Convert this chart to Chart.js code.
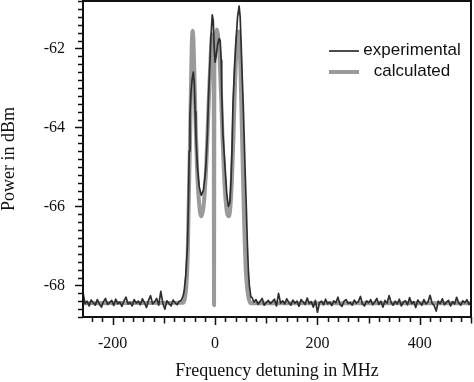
<!DOCTYPE html>
<html>
<head>
<meta charset="utf-8">
<script src="https://cdn.jsdelivr.net/npm/chart.js@4/dist/chart.umd.min.js"></script>
<style>
    html, body { margin: 0; padding: 0; background: #fff; }
</style>
</head>
<body>
<canvas id="spectrumChart" width="474" height="382"></canvas>
<script>
// baseline noise of the measured trace, sampled every 4 MHz
const noiseStep = 4;
const leftNoiseStart = -258;
const leftNoise = [
    -68.18, -68.46, -68.40, -68.52, -68.37, -68.44, -68.50, -68.36, -68.47, -68.55,
    -68.41, -68.33, -68.48, -68.44, -68.38, -68.51, -68.35, -68.46, -68.42, -68.53,
    -68.39, -68.30, -68.47, -68.43, -68.52, -68.36, -68.45, -68.40, -68.49, -68.34,
    -68.44, -68.56, -68.38, -68.26, -68.47, -68.41, -68.33, -68.50, -68.15, -68.45,
    -68.60, -68.39, -68.46, -68.52, -68.37, -68.44, -68.49, -68.40
];
const rightNoiseStart = 72;
const rightNoise = [
    -68.30, -68.42, -68.36, -68.48, -68.40, -68.33, -68.50, -68.44, -68.38, -68.46,
    -68.41, -68.35, -68.52, -68.20, -68.45, -68.39, -68.47, -68.34, -68.43, -68.50,
    -68.37, -68.45, -68.40, -68.53, -68.36, -68.42, -68.48, -68.32, -68.46, -68.41,
    -68.55, -68.38, -68.68, -68.44, -68.40, -68.49, -68.35, -68.47, -68.42, -68.51,
    -68.39, -68.44, -68.30, -68.48, -68.53, -68.40, -68.36, -68.46, -68.43, -68.50,
    -68.37, -68.45, -68.41, -68.28, -68.47, -68.52, -68.39, -68.44, -68.36, -68.49,
    -68.42, -68.33, -68.48, -68.40, -68.55, -68.38, -68.45, -68.26, -68.43, -68.50,
    -68.40, -68.47, -68.35, -68.52, -68.42, -68.39, -68.49, -68.31, -68.46, -68.41,
    -68.56, -68.37, -68.44, -68.50, -68.36, -68.47, -68.42, -68.25, -68.45, -68.51,
    -68.65, -68.40, -68.46, -68.34, -68.49, -68.43, -68.38, -68.52, -68.41, -68.47,
    -68.30, -68.45, -68.50, -68.39, -68.44, -68.36, -68.48, -68.42
];

// measured trace around the peaks
const expPeakFreq = [
    -66, -62, -60, -57, -54, -52, -50.5, -49, -47, -45,
    -42.5, -40.5, -39, -37.5, -34.5, -31, -27, -23, -20, -18,
    -15, -13, -10.5, -8, -5.5, -3.5, -2, 0, 2, 5,
    8, 10, 12, 13, 15.5, 19.5, 23, 26, 29, 31,
    33, 35, 38, 41, 44, 47, 49, 51, 53, 55,
    57, 59, 61, 63, 65, 67, 70
];
const expPeakPower = [
    -68.38, -68.25, -68.1, -67.7, -67.0, -65.9, -64.6, -63.7, -63.1, -62.8,
    -62.6, -62.9, -63.6, -64.2, -65.0, -65.5, -65.72, -65.6, -65.3, -65.0,
    -64.2, -63.3, -62.5, -61.7, -61.15, -61.3, -61.9, -62.35, -62.2, -61.9,
    -61.75, -61.8, -62.3, -63.1, -64.2, -65.0, -65.7, -66.0, -65.9, -65.4,
    -64.6, -63.4, -62.5, -61.8, -61.2, -60.93, -61.2, -61.9, -62.7, -63.4,
    -64.3, -65.2, -66.0, -66.9, -67.6, -68.0, -68.3
];

// calculated spectrum
const calcFreq = [
    -258, -62, -58, -55, -53, -51, -49, -47, -45.5, -43.5,
    -42, -40, -38, -35, -31, -27, -23, -20, -17, -14,
    -11, -8, -6, -4, -2.6, -2, -1.4, 0.5, 3.5, 6,
    9, 12, 15, 18, 21, 24, 27, 30, 33, 36,
    39, 42, 45.5, 48, 50, 52, 54, 56, 58, 60,
    63, 66, 70, 500
];
const calcPower = [
    -68.45, -68.44, -68.25, -67.8, -67.0, -65.6, -64.4, -62.9, -61.9, -61.55,
    -61.9, -62.9, -63.9, -65.1, -65.95, -66.25, -66.05, -65.6, -64.9, -63.9,
    -62.9, -62.05, -61.65, -61.8, -62.6, -68.5, -62.6, -61.7, -61.52, -61.7,
    -62.3, -63.3, -64.4, -65.3, -65.9, -66.2, -66.25, -66.0, -65.3, -64.2,
    -62.9, -62.0, -61.57, -61.9, -62.7, -63.8, -64.9, -66.0, -66.9, -67.6,
    -68.1, -68.35, -68.45, -68.45
];

const xLabelEvery = 200;
const yLabelEvery = 2;

const expPoints = [];
leftNoise.forEach((p, i) => expPoints.push({ x: leftNoiseStart + i * noiseStep, y: p }));
expPeakFreq.forEach((f, i) => expPoints.push({ x: f, y: expPeakPower[i] }));
rightNoise.forEach((p, i) => expPoints.push({ x: rightNoiseStart + i * noiseStep, y: p }));

const calcPoints = calcFreq.map((f, i) => ({ x: f, y: calcPower[i] }));

const isMult = (v, m) => Math.abs(v / m - Math.round(v / m)) < 1e-6;

// axis frame and tick marks (long for labelled ticks, short for minor ones)
const frameTicks = {
    id: 'frameTicks',
    afterDraw(chart) {
        const { ctx, chartArea: a, scales } = chart;
        ctx.save();
        ctx.strokeStyle = '#111';
        ctx.lineWidth = 1.5;
        scales.x.ticks.forEach(t => {
            const px = Math.round(scales.x.getPixelForValue(t.value)) + 0.5;
            const len = isMult(t.value, xLabelEvery) ? 8 : isMult(t.value, 100) ? 6.5 : 5;
            ctx.beginPath();
            ctx.moveTo(px, a.bottom);
            ctx.lineTo(px, a.bottom + len);
            ctx.stroke();
        });
        scales.y.ticks.forEach(t => {
            const py = Math.round(scales.y.getPixelForValue(t.value)) + 0.5;
            const len = isMult(t.value, yLabelEvery) ? 8 : 5;
            ctx.beginPath();
            ctx.moveTo(a.left, py);
            ctx.lineTo(a.left - len, py);
            ctx.stroke();
        });
        ctx.lineWidth = 2;
        ctx.strokeRect(a.left, a.top, a.right - a.left, a.bottom - a.top);
        ctx.restore();
    }
};

// legend drawn inside the plot, top right
const insideLegend = {
    id: 'insideLegend',
    afterDraw(chart) {
        const { ctx } = chart;
        ctx.save();
        ctx.font = '17px "Liberation Sans", Arial, sans-serif';
        ctx.textAlign = 'center';
        ctx.textBaseline = 'middle';
        ctx.fillStyle = '#111';
        chart.data.datasets.forEach((ds, i) => {
            const y = 50 + i * 21;
            ctx.strokeStyle = ds.borderColor;
            ctx.lineWidth = ds.borderWidth;
            ctx.beginPath();
            ctx.moveTo(329, y + 1);
            ctx.lineTo(359, y + 1);
            ctx.stroke();
            ctx.fillText(ds.label, 412, y);
        });
        ctx.restore();
    }
};

const serif = '"Liberation Serif", "Times New Roman", serif';

new Chart(document.getElementById('spectrumChart'), {
    type: 'line',
    data: {
        datasets: [
            {
                label: 'experimental',
                data: expPoints,
                borderColor: '#2e2e2e',
                borderWidth: 1.7,
                borderJoinStyle: 'round',
                pointRadius: 0,
                tension: 0,
                fill: false
            },
            {
                label: 'calculated',
                data: calcPoints,
                borderColor: '#9a9a9a',
                borderWidth: 4,
                borderJoinStyle: 'round',
                pointRadius: 0,
                cubicInterpolationMode: 'monotone',
                fill: false
            }
        ]
    },
    options: {
        responsive: false,
        animation: false,
        devicePixelRatio: 1,
        layout: { padding: { top: 1, right: 3, left: 0, bottom: 0 } },
        plugins: {
            legend: { display: false },
            tooltip: { enabled: false }
        },
        scales: {
            x: {
                type: 'linear',
                min: -258,
                max: 500,
                afterFit: s => {
                    s.height = 65;
                    s.paddingLeft = 0;
                    s.paddingRight = 0;
                },
                border: { display: false },
                grid: { drawOnChartArea: false, tickLength: 8, color: 'rgba(0,0,0,0)' },
                ticks: {
                    stepSize: 20,
                    includeBounds: false,
                    autoSkip: false,
                    maxRotation: 0,
                    padding: 9,
                    color: '#111',
                    font: { family: serif, size: 16 },
                    callback: v => isMult(v, xLabelEvery) ? String(Math.round(v)) : ''
                },
                title: {
                    display: true,
                    text: 'Frequency detuning in MHz',
                    color: '#111',
                    font: { family: serif, size: 18 },
                    padding: { top: 0, bottom: 0 }
                }
            },
            y: {
                min: -68.8,
                max: -60.8,
                afterFit: s => {
                    s.width = 83;
                    s.paddingTop = 0;
                    s.paddingBottom = 0;
                },
                border: { display: false },
                grid: { drawOnChartArea: false, tickLength: 8, color: 'rgba(0,0,0,0)' },
                ticks: {
                    stepSize: 0.2,
                    autoSkip: false,
                    padding: 10,
                    color: '#111',
                    font: { family: serif, size: 16 },
                    callback: v => isMult(v, yLabelEvery) ? String(Math.round(v)) : ''
                },
                title: {
                    display: true,
                    text: 'Power in dBm',
                    color: '#111',
                    font: { family: serif, size: 18, lineHeight: 1 },
                    padding: { top: 0, bottom: 0 }
                }
            }
        }
    },
    plugins: [frameTicks, insideLegend]
});
</script>
</body>
</html>
